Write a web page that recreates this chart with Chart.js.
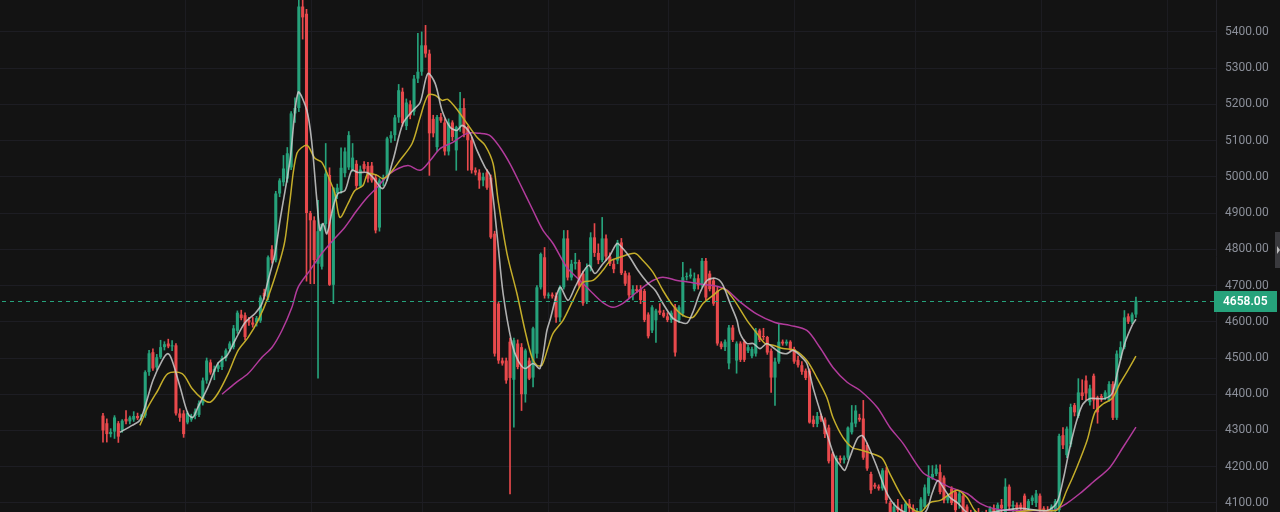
<!DOCTYPE html>
<html>
<head>
<meta charset="utf-8">
<script src="https://cdn.jsdelivr.net/npm/chart.js@4.4.1/dist/chart.umd.min.js"></script>
<style>
  html, body { margin: 0; padding: 0; background: #131313; }
  #wrap { width: 1280px; height: 512px; position: relative; }
</style>
</head>
<body>
<div id="wrap"><canvas id="chart"></canvas></div>
<script>
// daily candles, index 0 = first candle on screen
const opens = [
  4341,4320,4290,4297,4320,4300,4332,4325,4330,4340,
  4338,4341,4461,4516,4474,4502,4530,4540,4532,4535,
  4347,4347,4322,4330,4340,4343,4375,4438,4488,4462,
  4470,4475,4500,4525,4530,4575,4620,4618,4605,4598,
  4598,4603,4680,4667,4800,4770,4954,4985,4995,5026,
  5175,5190,5470,5450,4900,4880,4760,4752,4870,5005,
  4702,4955,4962,5010,5026,5020,5036,4975,5035,5030,
  5031,4998,4860,4990,5000,5106,5115,5164,5235,5140,
  5200,5180,5271,5290,5363,5340,5160,5082,5165,5150,
  5070,5150,5073,5137,5190,5137,5101,5018,5012,4990,
  5012,4998,4843,4650,4493,4493,4545,4440,4540,4530,
  4400,4493,4446,4512,4695,4778,4672,4675,4672,4612,
  4695,4830,4722,4760,4765,4733,4655,4750,4833,4790,
  4770,4830,4780,4760,4769,4819,4734,4728,4673,4690,
  4690,4685,4620,4576,4604,4631,4625,4615,4605,4640,
  4604,4623,4723,4725,4690,4720,4700,4768,4733,4714,
  4686,4540,4530,4485,4584,4493,4540,4545,4520,4505,
  4512,4576,4560,4558,4520,4446,4490,4545,4540,4545,
  4525,4495,4480,4465,4465,4330,4318,4340,4330,4308,
  4236,4050,4224,4218,4225,4295,4319,4335,4333,4260,
  4180,4150,4145,4140,4190,4100,4075,4090,4080,4070,
  4098,4085,4068,4070,4089,4126,4170,4180,4185,4170,
  4107,4140,4130,4101,4120,4090,4070,4050,4070,4050,
  4065,4060,4085,4070,4095,4075,4145,4090,4095,4095,
  4120,4085,4105,4100,4120,4085,4080,4078,4080,4080,
  4287,4232,4262,4370,4340,4405,4438,4378,4451,4391,
  4395,4390,4383,4428,4335,4500,4530,4615,4600,4620
];
const highs = [
  4347,4332,4305,4341,4325,4330,4355,4340,4352,4348,
  4345,4465,4521,4525,4510,4549,4545,4552,4548,4540,
  4360,4355,4352,4345,4360,4382,4445,4500,4495,4478,
  4488,4505,4525,4545,4590,4630,4632,4625,4612,4612,
  4615,4672,4690,4782,4810,4960,4995,5059,5081,5180,
  5218,5540,5510,5462,4905,4890,4935,4870,5092,5025,
  4970,4980,5080,5080,5125,5092,5045,5030,5042,5040,
  5040,5005,4995,5005,5110,5125,5170,5255,5245,5215,
  5210,5280,5396,5400,5418,5350,5170,5170,5175,5160,
  5160,5155,5140,5233,5216,5140,5110,5025,5020,5010,
  5020,5005,4850,4655,4500,4500,4555,4555,4550,4540,
  4525,4500,4585,4700,4790,4805,4680,4680,4680,4700,
  4852,4852,4770,4789,4770,4740,4760,4846,4871,4815,
  4888,4840,4790,4770,4825,4830,4740,4735,4700,4700,
  4700,4690,4625,4645,4635,4650,4632,4625,4630,4648,
  4645,4764,4735,4746,4735,4730,4775,4775,4740,4720,
  4695,4545,4550,4590,4590,4545,4545,4550,4535,4530,
  4582,4580,4582,4560,4525,4500,4595,4550,4550,4548,
  4530,4505,4490,4470,4470,4340,4350,4345,4335,4315,
  4240,4230,4230,4230,4310,4369,4369,4345,4383,4265,
  4185,4155,4150,4195,4198,4105,4100,4110,4095,4105,
  4110,4095,4085,4115,4150,4203,4203,4205,4205,4175,
  4125,4145,4135,4130,4125,4095,4080,4080,4085,4075,
  4080,4090,4095,4100,4110,4167,4150,4105,4100,4100,
  4125,4110,4120,4135,4125,4090,4090,4095,4110,4290,
  4308,4310,4373,4375,4443,4440,4451,4425,4456,4395,
  4400,4410,4435,4435,4520,4545,4631,4622,4625,4668
];
const lows = [
  4268,4268,4282,4278,4267,4295,4318,4318,4325,4330,
  4328,4336,4452,4466,4468,4498,4522,4528,4520,4342,
  4325,4281,4318,4325,4332,4338,4370,4430,4455,4440,
  4462,4468,4492,4518,4525,4568,4605,4550,4590,4585,
  4588,4598,4662,4660,4762,4765,4945,4975,4985,5020,
  5150,5180,5380,4712,4705,4705,4444,4745,4850,4700,
  4650,4940,4955,5000,5020,5015,4965,4970,5015,4985,
  4985,4845,4850,4975,4990,5095,5100,5150,5140,5130,
  5160,5170,5260,5280,5330,5004,5110,5070,5150,5060,
  5060,5100,5018,5125,5110,5018,5010,5005,4968,4975,
  4965,4830,4505,4485,4480,4430,4125,4309,4470,4355,
  4378,4440,4420,4500,4690,4665,4665,4665,4598,4600,
  4690,4715,4715,4745,4695,4645,4650,4740,4780,4760,
  4765,4770,4755,4735,4760,4730,4700,4665,4660,4680,
  4650,4600,4555,4570,4543,4620,4612,4600,4598,4505,
  4598,4615,4715,4720,4685,4690,4695,4660,4685,4645,
  4535,4525,4520,4470,4545,4458,4490,4490,4515,4500,
  4505,4545,4550,4510,4405,4369,4485,4535,4535,4520,
  4485,4475,4455,4440,4320,4310,4310,4325,4280,4210,
  4030,4030,4210,4210,4220,4290,4310,4325,4220,4190,
  4126,4140,4135,4135,4099,4060,4060,4070,4060,4060,
  4075,4060,4050,4060,4085,4120,4165,4175,4125,4100,
  4100,4095,4075,4085,4070,4060,4040,4030,4040,4030,
  4045,4050,4060,4060,4070,4065,4080,4070,4075,4080,
  4075,4080,4095,4090,4075,4075,4070,4065,4075,4075,
  4250,4225,4255,4340,4335,4385,4385,4370,4360,4320,
  4380,4385,4380,4330,4330,4495,4525,4595,4595,4612
];
const closes = [
  4300,4290,4296,4336,4283,4327,4325,4336,4340,4334,
  4342,4461,4513,4471,4502,4530,4538,4532,4535,4347,
  4335,4290,4348,4340,4352,4375,4438,4493,4460,4470,
  4480,4500,4521,4540,4582,4625,4610,4558,4598,4592,
  4610,4667,4670,4778,4770,4954,4990,5023,5065,5175,
  5190,5470,5440,4900,4880,4770,4850,4870,5009,4702,
  4970,4970,5025,5070,5115,5053,4975,5020,5022,4995,
  4990,4852,4990,4998,5106,5115,5164,5239,5148,5205,
  5170,5271,5290,5363,5340,5120,5120,5165,5155,5070,
  5150,5110,5137,5190,5120,5101,5018,5012,4990,5000,
  4970,4833,4512,4493,4485,4438,4445,4549,4475,4400,
  4521,4443,4582,4695,4787,4672,4675,4670,4612,4695,
  4830,4722,4760,4765,4700,4651,4750,4833,4790,4770,
  4830,4780,4760,4745,4819,4734,4705,4673,4690,4685,
  4660,4605,4560,4640,4631,4625,4615,4605,4625,4515,
  4640,4723,4725,4730,4720,4700,4768,4667,4690,4650,
  4540,4530,4545,4584,4550,4540,4495,4495,4530,4525,
  4576,4550,4558,4515,4446,4490,4545,4540,4545,4525,
  4490,4480,4462,4445,4322,4318,4340,4330,4290,4215,
  4060,4224,4218,4225,4308,4322,4355,4330,4225,4195,
  4135,4145,4140,4190,4108,4075,4090,4080,4070,4098,
  4085,4068,4078,4110,4143,4170,4180,4195,4130,4107,
  4120,4100,4080,4126,4075,4065,4050,4070,4050,4065,
  4060,4085,4070,4095,4085,4145,4090,4095,4085,4085,
  4079,4105,4115,4126,4080,4080,4075,4090,4105,4285,
  4259,4305,4365,4350,4405,4395,4402,4416,4383,4350,
  4390,4405,4428,4335,4512,4530,4612,4600,4620,4658.05
];

// moving average lines (x = candle index)
const fastX = [4.4,7.6,9.6,10.9,13.0,15.4,16.9,18.0,20.1,22.1,23.4,24.7,27.3,29.9,32.3,34.4,37.0,39.6,41.4,43.0,44.8,46.1,48.7,50.8,53.1,54.4,55.7,56.5,57.3,58.3,59.9,61.2,63.0,64.8,66.4,68.8,70.3,72.9,75.5,78.1,80.7,82.6,84.6,86.5,88.3,90.4,92.2,93.5,95.6,97.4,99.5,100.8,102.6,104.2,106.5,108.1,109.9,112.0,113.8,115.6,116.4,119.0,121.1,122.9,125.0,126.6,128.1,129.9,132.0,133.9,135.4,137.2,139.3,141.7,143.8,145.8,148.4,150.3,152.1,153.6,155.5,157.3,159.4,161.2,163.3,165.1,165.9,167.7,169.3,171.1,172.9,174.5,176.3,178.1,179.7,181.5,183.3,184.9,186.7,188.5,190.6,192.4,193.2,194.5,196.4,197.7,199.0,201.6,204.2,206.8,210.2,214.1,215.9,217.4,218.8,220.6,222.7,225.0,228.4,233.6,238.8,245.8,248.4,250.0,251.8,253.6,255.2,257.0,258.9,260.9,262.8,264.3,266.1,268.0,269.0];
const fastY = [4295,4314,4328,4364,4438,4493,4512,4493,4419,4347,4336,4364,4419,4485,4507,4549,4598,4623,4650,4714,4789,4880,5045,5233,5183,5092,4935,4852,4871,4843,4916,4954,4962,5018,5012,5012,4998,4968,5045,5147,5183,5205,5285,5258,5183,5137,5128,5142,5120,5073,5026,5004,4843,4678,4540,4493,4471,4485,4471,4576,4604,4695,4659,4695,4737,4756,4733,4756,4783,4816,4802,4778,4742,4709,4687,4651,4610,4599,4596,4626,4681,4714,4720,4706,4651,4604,4568,4540,4540,4526,4540,4529,4515,4512,4521,4507,4485,4419,4355,4292,4226,4198,4190,4226,4277,4286,4264,4198,4126,4088,4070,4074,4126,4162,4143,4115,4099,4074,4070,4078,4085,4079,4101,4162,4253,4328,4373,4388,4388,4388,4402,4466,4540,4590,4607];

const midX = [9.6,11.7,14.3,16.9,20.6,23.2,25.8,27.9,29.9,32.6,35.2,37.8,40.4,43.0,46.1,47.4,48.7,50.5,53.1,55.2,57.0,59.1,60.4,61.7,63.8,65.6,67.7,69.0,71.4,72.9,74.7,77.3,80.5,82.6,84.6,86.5,88.3,89.8,92.4,94.8,97.4,99.5,101.6,102.9,105.2,107.8,109.9,111.7,113.0,114.3,115.9,117.2,119.8,122.4,125.0,127.6,130.2,132.0,134.6,138.5,140.6,143.2,145.8,148.4,151.0,153.6,156.3,158.9,161.5,164.1,167.7,170.3,172.4,174.5,177.1,180.2,183.3,185.9,188.5,190.1,192.7,195.1,197.7,200.3,202.9,204.9,207.6,210.2,212.8,215.4,218.0,222.4,225.0,227.6,233.6,242.2,248.4,251.0,253.6,256.3,258.3,260.4,262.8,264.8,266.9,269.0];
const midY = [4314,4364,4411,4457,4457,4416,4388,4378,4402,4457,4521,4557,4604,4668,4769,4825,4935,5065,5087,5051,5040,4990,4954,4888,4926,4962,4976,5009,5004,4995,5009,5045,5092,5164,5225,5225,5211,5214,5183,5147,5109,5087,5036,4935,4789,4678,4576,4502,4480,4480,4529,4568,4604,4659,4709,4714,4742,4767,4778,4789,4769,4737,4687,4645,4618,4612,4651,4673,4692,4664,4604,4568,4540,4535,4526,4521,4493,4446,4391,4336,4281,4253,4245,4236,4223,4181,4126,4088,4074,4101,4107,4135,4115,4074,4070,4080,4080,4135,4198,4273,4350,4373,4388,4429,4466,4505];

const slowX = [31.0,34.4,37.8,41.4,44.0,46.6,49.2,50.8,53.9,57.0,59.9,63.0,66.1,68.8,71.4,74.7,79.4,82.6,85.2,87.8,91.1,94.8,98.2,100.8,103.4,106.0,108.6,112.0,114.6,117.2,120.8,124.2,127.6,130.2,132.8,135.4,138.0,140.6,143.2,145.8,149.5,152.9,156.3,159.9,162.5,165.9,170.3,175.0,178.9,183.3,186.7,190.1,193.8,197.1,201.6,204.9,208.3,213.5,217.2,220.6,225.0,228.4,231.8,236.2,242.2,247.4,251.0,254.4,257.8,262.2,265.6,269.0];
const slowY = [4400,4430,4457,4502,4529,4576,4640,4695,4742,4789,4825,4861,4907,4943,4971,5009,5031,5018,5045,5078,5095,5120,5120,5114,5081,5036,4981,4907,4852,4816,4750,4714,4678,4653,4640,4651,4673,4695,4714,4723,4714,4709,4703,4698,4687,4655,4621,4598,4590,4576,4529,4474,4433,4411,4364,4309,4265,4184,4162,4143,4126,4099,4085,4079,4079,4079,4099,4126,4157,4198,4253,4309];

const yTicks = [4100,4200,4300,4400,4500,4600,4700,4800,4900,5000,5100,5200,5300,5400];
const monthLines = [21.4,54.2,83.3,115.9,147.4,180.2,211.7,244.3,277.1];
const lastPrice = 4658.05;

const upColor = '#26a27b';
const downColor = '#e8494c';

let candleColors = opens.map((o, i) => closes[i] >= o ? upColor : downColor);
let bodies = opens.map((o, i) => ({ x: i, y: [o, closes[i]] }));
let wicks = lows.map((l, i) => ({ x: i, y: [l, highs[i]] }));
let line = (xs, ys) => xs.map((x, i) => ({ x, y: ys[i] }));

const bgPlugin = {
    id: 'bg',
    beforeDraw(chart) {
        let ctx = chart.ctx;
        ctx.save();
        ctx.fillStyle = '#131313';
        ctx.fillRect(0, 0, chart.width, chart.height);
        ctx.restore();
    }
};

const pricePlugin = {
    id: 'lastPrice',
    afterDraw(chart) {
        let ctx = chart.ctx, area = chart.chartArea;
        let y = Math.round(chart.scales.y.getPixelForValue(lastPrice));
        ctx.save();
        // dashed price line, drawn as small solid segments
        ctx.fillStyle = '#26a27b';
        for (let x = area.left + 2; x < area.right - 4; x += 8) {
            ctx.fillRect(x, y, 4, 1);
        }
        ctx.fillRect(area.right - 2, y - 10, 63, 21);
        ctx.fillStyle = '#ffffff';
        ctx.font = '600 12px Roboto';
        ctx.textBaseline = 'middle';
        ctx.fillText(lastPrice.toFixed(2), area.right + 7, y + 1);
        // little side handle on the right edge
        ctx.fillStyle = '#3a3a3e';
        ctx.fillRect(chart.width - 5, 232, 5, 36);
        ctx.fillStyle = '#bdbdbd';
        ctx.beginPath();
        ctx.moveTo(chart.width - 3, 246);
        ctx.lineTo(chart.width, 250);
        ctx.lineTo(chart.width - 3, 254);
        ctx.fill();
        ctx.restore();
    }
};

new Chart(document.getElementById('chart').getContext('2d'), {
    type: 'bar',
    data: {
        datasets: [
            { type: 'line', data: line(fastX, fastY), borderColor: 'rgba(205,205,205,0.85)', borderWidth: 1.6, pointRadius: 0, tension: 0.3, order: 0 },
            { type: 'line', data: line(midX, midY), borderColor: '#c4ad2a', borderWidth: 1.5, pointRadius: 0, tension: 0.3, order: 0 },
            { type: 'line', data: line(slowX, slowY), borderColor: '#b23b9c', borderWidth: 1.5, pointRadius: 0, tension: 0.3, order: 0 },
            { data: bodies, backgroundColor: candleColors, grouped: false, categoryPercentage: 1, barPercentage: 0.8, minBarLength: 1, order: 1 },
            { data: wicks, backgroundColor: candleColors, grouped: false, barThickness: 1, order: 2 }
        ]
    },
    options: {
        responsive: true,
        maintainAspectRatio: false,
        animation: false,
        layout: { padding: 0 },
        plugins: { legend: { display: false }, tooltip: { enabled: false } },
        scales: {
            x: {
                type: 'linear',
                min: -26.82,
                max: 289.85,
                offset: false,
                afterBuildTicks: axis => { axis.ticks = monthLines.map(v => ({ value: v })); },
                afterFit: axis => { axis.height = 0; },
                ticks: { display: false },
                grid: { color: '#1c1c21', drawTicks: false, offset: false },
                border: { display: false }
            },
            y: {
                position: 'right',
                min: 4075,
                max: 5488,
                afterBuildTicks: axis => { axis.ticks = yTicks.map(v => ({ value: v })); },
                afterFit: axis => { axis.width = 64; axis.paddingTop = 0; axis.paddingBottom = 0; },
                ticks: {
                    color: '#8b8f99',
                    padding: 9,
                    font: { family: 'Roboto', size: 12 },
                    callback: v => v.toFixed(2)
                },
                grid: { color: '#1d1d23', drawTicks: false },
                border: { color: '#222228' }
            }
        }
    },
    plugins: [bgPlugin, pricePlugin]
});
</script>
</body>
</html>
